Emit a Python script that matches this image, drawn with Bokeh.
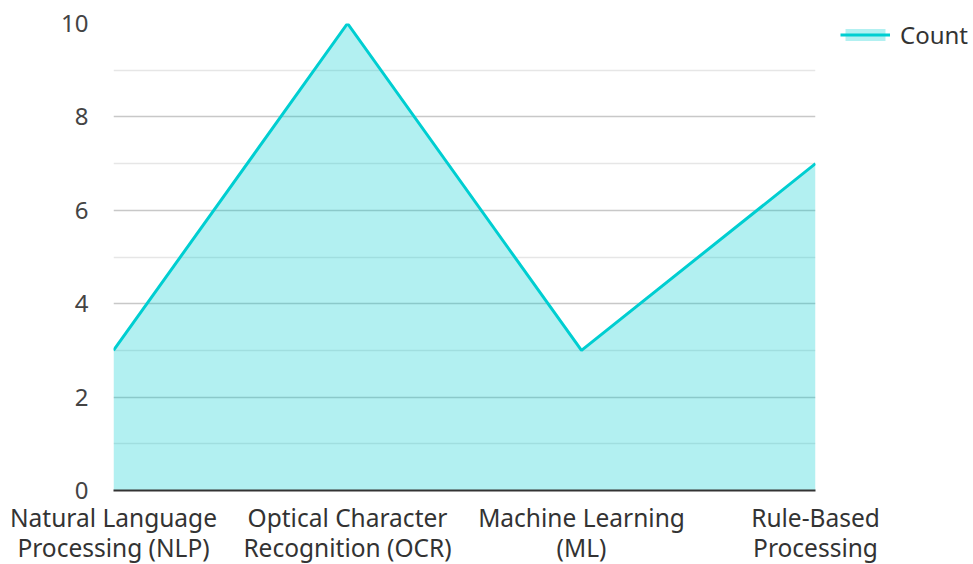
from bokeh.plotting import figure
from bokeh.models import FixedTicker, Legend, LegendItem, ColumnDataSource, Range1d
from bokeh.embed import file_html
from bokeh.resources import INLINE

categories = ["Natural Language\nProcessing (NLP)", "Optical Character\nRecognition (OCR)",
              "Machine Learning\n(ML)", "Rule-Based\nProcessing"]
counts = [3, 10, 3, 7]
y_ticks = [0, 2, 4, 6, 8, 10]
y_minor = [1, 3, 5, 7, 9]

xs = list(range(len(categories)))
src = ColumnDataSource(data=dict(x=xs, y=counts, y0=[0] * len(xs)))

p = figure(frame_width=702, frame_height=467, output_backend="svg", toolbar_location=None,
           x_range=Range1d(0, len(categories) - 1), y_range=Range1d(0, 10),
           min_border_left=113, min_border_right=150, min_border_top=23, min_border_bottom=66)
p.outline_line_color = None

area = p.varea(x="x", y1="y0", y2="y", source=src, fill_color="#00CED1", fill_alpha=0.3)
line = p.line(x="x", y="y", source=src, line_color="#00CED1", line_width=3)

# axes
p.xaxis.ticker = FixedTicker(ticks=xs)
p.xaxis.major_label_overrides = {i: c for i, c in enumerate(categories)}
p.xaxis.axis_line_color = "#333333"
p.xaxis.axis_line_width = 2
p.xaxis.major_tick_line_color = None
p.xaxis.minor_tick_line_color = None
p.xaxis.major_tick_out = 0
p.xaxis.major_label_standoff = 10
p.xaxis.major_label_text_font = "Noto Sans"
p.xaxis.major_label_text_font_size = "24.5px"
p.xaxis.major_label_text_line_height = 0.93
p.xaxis.major_label_text_color = "#333333"

p.yaxis.ticker = FixedTicker(ticks=y_ticks, minor_ticks=y_minor)
p.yaxis.axis_line_color = None
p.yaxis.major_tick_line_color = None
p.yaxis.minor_tick_line_color = None
p.yaxis.major_tick_out = 0
p.yaxis.major_label_standoff = 21
p.yaxis.major_label_text_font = "Noto Sans"
p.yaxis.major_label_text_font_size = "24px"
p.yaxis.major_label_text_color = "#444444"

p.xgrid.grid_line_color = None
p.ygrid.grid_line_color = "#c8c8c8"
p.ygrid.grid_line_width = 1.5
p.ygrid.minor_grid_line_color = "#e6e6e6"
p.ygrid.minor_grid_line_width = 1.5

legend = Legend(items=[LegendItem(label="Count", renderers=[area, line])],
                location=(25, 439), orientation="vertical")
legend.border_line_color = None
legend.background_fill_alpha = 0
legend.padding = 0
legend.margin = 0
legend.glyph_width = 50
legend.glyph_height = 15
legend.label_standoff = 10
legend.label_text_font = "Noto Sans"
legend.label_text_font_size = "24px"
legend.label_text_color = "#333333"
p.add_layout(legend, "right")

open("out.html", "w").write(file_html(p, INLINE))
